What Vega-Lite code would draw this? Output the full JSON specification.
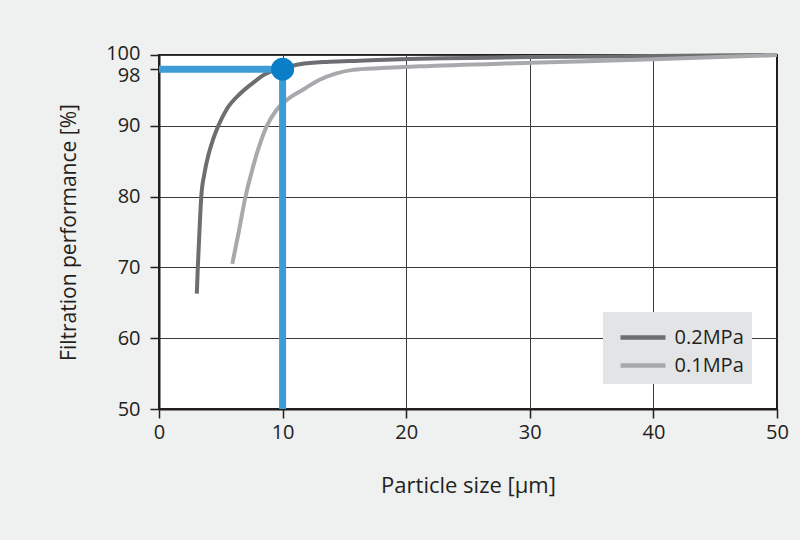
{
  "$schema": "https://vega.github.io/schema/vega-lite/v6.json",
  "width": 618,
  "height": 354,
  "autosize": {"type": "none"},
  "padding": {"left": 159, "top": 55, "right": 23, "bottom": 131},
  "background": "#eff0f0",
  "config": {
    "font": "Open Sans",
    "view": {"fill": "white", "stroke": "#231f20", "strokeWidth": 2},
    "axis": {
      "domainColor": "#231f20",
      "domainWidth": 2,
      "tickColor": "#231f20",
      "tickWidth": 1.5,
      "tickSize": 9,
      "gridColor": "#3a3a3a",
      "gridWidth": 1,
      "labelColor": "#231f20",
      "titleColor": "#231f20",
      "labelFont": "Open Sans",
      "titleFont": "Open Sans",
      "labelFontSize": 20,
      "titleFontSize": 21,
      "titleFontWeight": "normal",
      "labelOverlap": false,
      "labelFlush": false
    }
  },
  "datasets": {
    "curves": [
      {"size": 3.06, "perf": 66.3, "pressure": "0.2MPa"},
      {"size": 3.14, "perf": 70.0, "pressure": "0.2MPa"},
      {"size": 3.27, "perf": 75.0, "pressure": "0.2MPa"},
      {"size": 3.42, "perf": 80.0, "pressure": "0.2MPa"},
      {"size": 3.68, "perf": 83.3, "pressure": "0.2MPa"},
      {"size": 4.03, "perf": 86.1, "pressure": "0.2MPa"},
      {"size": 4.36, "perf": 88.0, "pressure": "0.2MPa"},
      {"size": 4.8, "perf": 90.0, "pressure": "0.2MPa"},
      {"size": 5.5, "perf": 92.4, "pressure": "0.2MPa"},
      {"size": 6.6, "perf": 94.6, "pressure": "0.2MPa"},
      {"size": 7.7, "perf": 96.2, "pressure": "0.2MPa"},
      {"size": 8.6, "perf": 97.3, "pressure": "0.2MPa"},
      {"size": 10.0, "perf": 98.1, "pressure": "0.2MPa"},
      {"size": 11.38, "perf": 98.7, "pressure": "0.2MPa"},
      {"size": 13.8, "perf": 99.05, "pressure": "0.2MPa"},
      {"size": 16.2, "perf": 99.2, "pressure": "0.2MPa"},
      {"size": 19.5, "perf": 99.4, "pressure": "0.2MPa"},
      {"size": 30, "perf": 99.7, "pressure": "0.2MPa"},
      {"size": 40, "perf": 99.85, "pressure": "0.2MPa"},
      {"size": 50, "perf": 100, "pressure": "0.2MPa"},
      {"size": 5.93, "perf": 70.5, "pressure": "0.1MPa"},
      {"size": 6.45, "perf": 75.0, "pressure": "0.1MPa"},
      {"size": 7.0, "perf": 80.0, "pressure": "0.1MPa"},
      {"size": 7.47, "perf": 83.3, "pressure": "0.1MPa"},
      {"size": 7.92, "perf": 86.1, "pressure": "0.1MPa"},
      {"size": 8.73, "perf": 90.0, "pressure": "0.1MPa"},
      {"size": 9.49, "perf": 92.2, "pressure": "0.1MPa"},
      {"size": 10.3, "perf": 93.6, "pressure": "0.1MPa"},
      {"size": 11.64, "perf": 95.1, "pressure": "0.1MPa"},
      {"size": 13.0, "perf": 96.5, "pressure": "0.1MPa"},
      {"size": 14.35, "perf": 97.4, "pressure": "0.1MPa"},
      {"size": 15.7, "perf": 97.9, "pressure": "0.1MPa"},
      {"size": 18.0, "perf": 98.15, "pressure": "0.1MPa"},
      {"size": 21.1, "perf": 98.4, "pressure": "0.1MPa"},
      {"size": 30, "perf": 98.9, "pressure": "0.1MPa"},
      {"size": 40, "perf": 99.4, "pressure": "0.1MPa"},
      {"size": 50, "perf": 100, "pressure": "0.1MPa"}
    ],
    "marker": [
      {"size": 0, "perf": 98, "order": 1},
      {"size": 10, "perf": 98, "order": 2},
      {"size": 10, "perf": 50, "order": 3}
    ],
    "point": [{"size": 10, "perf": 98}]
  },
  "layer": [
    {
      "data": {"name": "curves"},
      "mark": {"type": "line", "strokeWidth": 4, "interpolate": "monotone"},
      "encoding": {
        "x": {
          "field": "size", "type": "quantitative",
          "scale": {"domain": [0, 50], "nice": false},
          "axis": {
            "title": "Particle size [µm]",
            "titleFontSize": 22,
            "values": [0, 10, 20, 30, 40, 50],
            "labelPadding": 4,
            "titlePadding": 33,
            "gridOpacity": {"condition": {"test": "datum.value === 0 || datum.value === 50", "value": 0}, "value": 1}
          }
        },
        "y": {
          "field": "perf", "type": "quantitative",
          "scale": {"domain": [50, 100], "nice": false},
          "axis": {
            "title": "Filtration performance [%]",
            "values": [50, 60, 70, 80, 90, 98, 100],
            "labelPadding": 10,
            "titlePadding": 26,
            "labelOffset": {"condition": [{"test": "datum.value === 98", "value": 6}, {"test": "datum.value === 100", "value": -2}], "value": 0},
            "gridOpacity": {"condition": {"test": "datum.value === 98", "value": 0}, "value": 1}
          }
        },
        "color": {
          "field": "pressure", "type": "nominal",
          "scale": {"domain": ["0.2MPa", "0.1MPa"], "range": ["#6d6e71", "#a7a9ac"]},
          "legend": {
            "title": null,
            "orient": "none",
            "legendX": 444,
            "legendY": 257,
            "fillColor": "#e3e4e5",
            "padding": 8,
            "symbolType": "M-1.5,0H1.5",
            "symbolSize": 900,
            "symbolOffset": 14.5,
            "symbolStrokeWidth": 4.5,
            "symbolFillColor": "transparent",
            "rowPadding": 0,
            "labelFont": "Open Sans",
            "labelFontSize": 20,
            "labelColor": "#231f20",
            "labelOffset": 14
          }
        }
      }
    },
    {
      "data": {"name": "marker"},
      "mark": {"type": "line", "color": "#3d9bd6", "strokeWidth": 7, "strokeCap": "butt"},
      "encoding": {
        "x": {"field": "size", "type": "quantitative"},
        "y": {"field": "perf", "type": "quantitative"},
        "order": {"field": "order"}
      }
    },
    {
      "data": {"name": "point"},
      "mark": {"type": "circle", "color": "#0a7fc7", "opacity": 1, "size": 530},
      "encoding": {
        "x": {"field": "size", "type": "quantitative"},
        "y": {"field": "perf", "type": "quantitative"}
      }
    }
  ]
}
